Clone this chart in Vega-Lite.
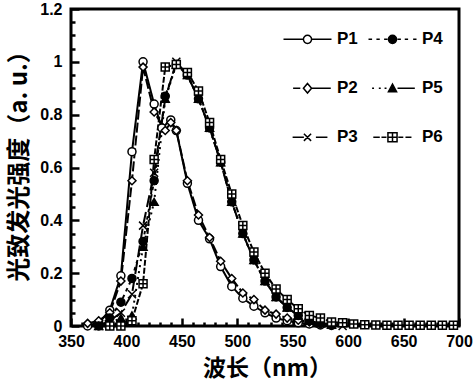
{
"$schema": "https://vega.github.io/schema/vega-lite/v6.json",
"width": 388, "height": 317,
"autosize": {"type": "none"},
"padding": {"left": 71, "top": 9, "right": 15, "bottom": 56},
"background": "white",
"config": {"view": {"stroke": "black", "strokeWidth": 3}, "font": "Liberation Sans",
 "axis": {"labelFont": "Liberation Sans", "labelFontWeight": "bold", "labelFontSize": 16, "labelColor": "black", "tickColor": "black", "grid": false, "domain": false, "titleColor": "black"}},
"data": {"values": [
{"s":"P1","x":365,"y":0.0},{"s":"P1","x":375,"y":0.01},{"s":"P1","x":385,"y":0.06},{"s":"P1","x":395,"y":0.19},{"s":"P1","x":405,"y":0.66},{"s":"P1","x":415,"y":1.0},{"s":"P1","x":425,"y":0.84},{"s":"P1","x":432,"y":0.75},{"s":"P1","x":440,"y":0.78},{"s":"P1","x":445,"y":0.74},{"s":"P1","x":455,"y":0.54},{"s":"P1","x":465,"y":0.40},{"s":"P1","x":475,"y":0.33},{"s":"P1","x":485,"y":0.225},{"s":"P1","x":495,"y":0.15},{"s":"P1","x":505,"y":0.105},{"s":"P1","x":515,"y":0.075},{"s":"P1","x":525,"y":0.05},{"s":"P1","x":535,"y":0.03},{"s":"P1","x":545,"y":0.02},{"s":"P1","x":555,"y":0.012},{"s":"P1","x":565,"y":0.008},{"s":"P1","x":575,"y":0.004},{"s":"P1","x":585,"y":0.002},
{"s":"P2","x":365,"y":0.01},{"s":"P2","x":375,"y":0.02},{"s":"P2","x":385,"y":0.05},{"s":"P2","x":395,"y":0.17},{"s":"P2","x":405,"y":0.55},{"s":"P2","x":415,"y":0.98},{"s":"P2","x":425,"y":0.81},{"s":"P2","x":435,"y":0.74},{"s":"P2","x":440,"y":0.77},{"s":"P2","x":445,"y":0.74},{"s":"P2","x":455,"y":0.55},{"s":"P2","x":465,"y":0.42},{"s":"P2","x":475,"y":0.335},{"s":"P2","x":485,"y":0.245},{"s":"P2","x":495,"y":0.18},{"s":"P2","x":505,"y":0.125},{"s":"P2","x":515,"y":0.10},{"s":"P2","x":525,"y":0.06},{"s":"P2","x":535,"y":0.045},{"s":"P2","x":545,"y":0.03},{"s":"P2","x":555,"y":0.022},{"s":"P2","x":565,"y":0.015},{"s":"P2","x":575,"y":0.008},{"s":"P2","x":585,"y":0.005},
{"s":"P3","x":375,"y":0.0},{"s":"P3","x":385,"y":0.02},{"s":"P3","x":395,"y":0.05},{"s":"P3","x":405,"y":0.12},{"s":"P3","x":415,"y":0.38},{"s":"P3","x":425,"y":0.58},{"s":"P3","x":435,"y":0.86},{"s":"P3","x":445,"y":1.0},{"s":"P3","x":455,"y":0.95},{"s":"P3","x":465,"y":0.86},{"s":"P3","x":475,"y":0.75},{"s":"P3","x":485,"y":0.62},{"s":"P3","x":495,"y":0.47},{"s":"P3","x":505,"y":0.35},{"s":"P3","x":515,"y":0.25},{"s":"P3","x":525,"y":0.17},{"s":"P3","x":535,"y":0.11},{"s":"P3","x":545,"y":0.07},{"s":"P3","x":555,"y":0.04},{"s":"P3","x":565,"y":0.02},{"s":"P3","x":575,"y":0.01},{"s":"P3","x":585,"y":0.005},{"s":"P3","x":595,"y":0.0},
{"s":"P4","x":375,"y":0.0},{"s":"P4","x":385,"y":0.03},{"s":"P4","x":395,"y":0.09},{"s":"P4","x":405,"y":0.18},{"s":"P4","x":415,"y":0.32},{"s":"P4","x":425,"y":0.55},{"s":"P4","x":435,"y":0.87},{"s":"P4","x":445,"y":0.99},{"s":"P4","x":455,"y":0.95},{"s":"P4","x":465,"y":0.86},{"s":"P4","x":475,"y":0.75},{"s":"P4","x":485,"y":0.62},{"s":"P4","x":495,"y":0.47},{"s":"P4","x":505,"y":0.35},{"s":"P4","x":515,"y":0.25},{"s":"P4","x":525,"y":0.17},{"s":"P4","x":535,"y":0.11},{"s":"P4","x":545,"y":0.07},{"s":"P4","x":555,"y":0.04},{"s":"P4","x":565,"y":0.02},{"s":"P4","x":575,"y":0.01},{"s":"P4","x":585,"y":0.005},
{"s":"P5","x":375,"y":0.0},{"s":"P5","x":385,"y":0.01},{"s":"P5","x":395,"y":0.03},{"s":"P5","x":405,"y":0.04},{"s":"P5","x":415,"y":0.30},{"s":"P5","x":425,"y":0.47},{"s":"P5","x":435,"y":0.86},{"s":"P5","x":445,"y":0.99},{"s":"P5","x":455,"y":0.95},{"s":"P5","x":465,"y":0.86},{"s":"P5","x":475,"y":0.75},{"s":"P5","x":485,"y":0.62},{"s":"P5","x":495,"y":0.47},{"s":"P5","x":505,"y":0.35},{"s":"P5","x":515,"y":0.25},{"s":"P5","x":525,"y":0.17},{"s":"P5","x":535,"y":0.11},{"s":"P5","x":545,"y":0.07},{"s":"P5","x":555,"y":0.04},{"s":"P5","x":565,"y":0.02},{"s":"P5","x":575,"y":0.01},{"s":"P5","x":585,"y":0.005},
{"s":"P6","x":385,"y":0.0},{"s":"P6","x":395,"y":0.0},{"s":"P6","x":405,"y":0.02},{"s":"P6","x":415,"y":0.16},{"s":"P6","x":425,"y":0.63},{"s":"P6","x":435,"y":0.98},{"s":"P6","x":445,"y":0.99},{"s":"P6","x":455,"y":0.96},{"s":"P6","x":465,"y":0.89},{"s":"P6","x":475,"y":0.77},{"s":"P6","x":485,"y":0.63},{"s":"P6","x":495,"y":0.50},{"s":"P6","x":505,"y":0.38},{"s":"P6","x":515,"y":0.28},{"s":"P6","x":525,"y":0.20},{"s":"P6","x":535,"y":0.14},{"s":"P6","x":545,"y":0.10},{"s":"P6","x":555,"y":0.065},{"s":"P6","x":565,"y":0.04},{"s":"P6","x":575,"y":0.03},{"s":"P6","x":585,"y":0.015},{"s":"P6","x":595,"y":0.012},{"s":"P6","x":605,"y":0.008},{"s":"P6","x":615,"y":0.005},{"s":"P6","x":625,"y":0.004},{"s":"P6","x":635,"y":0.003},{"s":"P6","x":645,"y":0.003},{"s":"P6","x":655,"y":0.003},{"s":"P6","x":665,"y":0.003},{"s":"P6","x":675,"y":0.003},{"s":"P6","x":685,"y":0.003},{"s":"P6","x":695,"y":0.003}
]},
"layer": [
 {"mark": {"type": "point", "opacity": 0},
  "encoding": {
   "x": {"field": "x", "type": "quantitative", "scale": {"domain": [350, 700], "nice": false, "zero": false},
     "axis": {"orient": "bottom", "values": [360,370,380,390,410,420,430,440,460,470,480,490,510,520,530,540,560,570,580,590,610,620,630,640,660,670,680,690], "labels": false, "tickSize": -4, "tickWidth": 2.5, "title": null}},
   "y": {"field": "y", "type": "quantitative", "scale": {"domain": [0, 1.2], "nice": false},
     "axis": {"orient": "left", "values": [0.05,0.1,0.15,0.25,0.3,0.35,0.45,0.5,0.55,0.65,0.7,0.75,0.85,0.9,0.95,1.05,1.1,1.15], "labels": false, "tickSize": -4, "tickWidth": 2.5, "title": null}}
  }},
 {"mark": {"type": "line", "color": "black", "strokeWidth": 2},
  "encoding": {
   "x": {"field": "x", "type": "quantitative",
     "axis": {"orient": "bottom", "values": [350,400,450,500,550,600,650,700], "tickSize": -8, "tickWidth": 2.5, "labelPadding": 15, "labelFlush": false, "labelOverlap": false,
       "title": "波长（nm）", "titleFont": "Noto Sans CJK SC", "titleFontSize": 23, "titleFontWeight": "bold", "titleX": 196, "titleY": 42, "titleBaseline": "middle"}},
   "y": {"field": "y", "type": "quantitative",
     "axis": {"orient": "left", "values": [0,0.2,0.4,0.6,0.8,1,1.2], "format": "~g", "tickSize": -8, "tickWidth": 2.5, "labelPadding": 17, "labelOverlap": false,
       "title": "光致发光强度（a. u.）", "titleFont": "Noto Sans CJK SC", "titleFontSize": 24, "titleFontWeight": "bold", "titleX": -52, "titleY": 151, "titleBaseline": "middle", "titleAngle": -90}},
   "strokeDash": {"field": "s", "type": "nominal", "legend": null,
     "scale": {"domain": ["P6","P5","P4","P3","P2","P1"], "range": [[6,2],[2,4],[3.5,4],[12,5],[10,3],[1,0]]}}
  }},
 {"mark": {"type": "point", "filled": true, "stroke": "black", "strokeWidth": 1.5, "size": 64, "opacity": 1},
  "encoding": {
   "x": {"field": "x", "type": "quantitative", "axis": null},
   "y": {"field": "y", "type": "quantitative", "axis": null},
   "fill": {"field": "s", "type": "nominal", "legend": null,
     "scale": {"domain": ["P6","P5","P4","P3","P2","P1"], "range": ["white","black","black","white","white","white"]}},
   "shape": {"field": "s", "type": "nominal", "legend": null,
     "scale": {"domain": ["P6","P5","P4","P3","P2","P1"], "range": ["M-1,-1H1V1H-1ZM0,-1V1M-1,0H1","triangle-up","circle","M-1,-1L1,1M1,-1L-1,1","diamond","circle"]}}
  }},
 {"transform": [{"filter": "datum.x > 9999"}],
  "mark": {"type": "point", "filled": true, "stroke": "black", "strokeWidth": 1.5},
  "encoding": {
   "x": {"field": "x", "type": "quantitative", "axis": null},
   "y": {"field": "y", "type": "quantitative", "axis": null},
   "fill": {"field": "s", "type": "nominal", "title": null,
     "scale": {"domain": ["P1","P2","P3","P4","P5","P6"], "range": ["white","white","white","black","black","white"]}},
   "shape": {"field": "s", "type": "nominal", "title": null,
     "scale": {"domain": ["P1","P2","P3","P4","P5","P6"], "range": [
       "M-1,0H-0.17M0.17,0H1M-0.17,0A0.17,0.17 0 1,1 0.17,0A0.17,0.17 0 1,1 -0.17,0Z",
       "M-0.6,0H-0.3M0.17,0H0.97M0,-0.2L0.17,0L0,0.2L-0.17,0Z",
       "M-0.62,0H-0.15M-0.15,-0.15L0.15,0.15M0.15,-0.15L-0.15,0.15M0.35,0H0.83",
       "M-1,0H-0.85M-0.67,0H-0.53M-0.35,0H-0.21M0.21,0H0.35M0.51,0H0.65M0.86,0H1M-0.17,0A0.17,0.17 0 1,1 0.17,0A0.17,0.17 0 1,1 -0.17,0Z",
       "M-0.85,0H-0.77M-0.57,0H-0.49M-0.33,0H-0.25M0.21,0H0.93M0,-0.18L0.17,0.14L-0.17,0.14Z",
       "M-0.8,0H-0.53M-0.46,0H-0.25M0.24,0H0.45M0.54,0H0.79M-0.19,-0.19H0.19V0.19H-0.19ZM0,-0.19V0.19M-0.19,0H0.19"]},
     "legend": {"orient": "none", "legendX": 211.5, "legendY": 5.3, "columns": 2, "direction": "vertical", "padding": 0, "rowPadding": 16, "columnPadding": 7, "symbolSize": 2304, "labelOffset": 4.5, "symbolOpacity": 1, "symbolStrokeWidth": 1.5,
       "labelFont": "Liberation Sans", "labelFontWeight": "bold", "labelFontSize": 17, "labelColor": "black"}}
  }}
],
"resolve": {"axis": {"x": "independent", "y": "independent"}, "scale": {"shape": "independent", "fill": "independent"}}
}
